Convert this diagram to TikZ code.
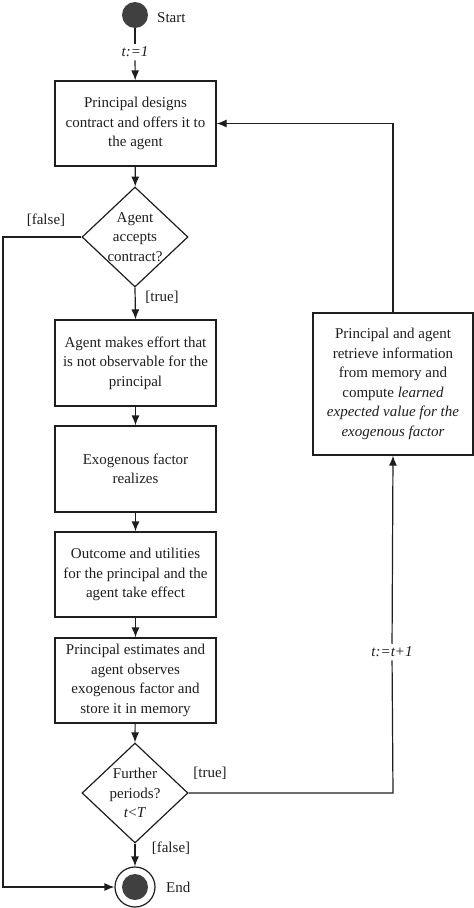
\documentclass[tikz,border=0pt]{standalone}
\usepackage{fontspec}
\setmainfont{Liberation Serif}
\usetikzlibrary{arrows.meta,shapes.geometric}
\definecolor{ink}{HTML}{1E1E1E}
\definecolor{dot}{HTML}{404040}
\begin{document}
\begin{tikzpicture}[x=1pt,y=-1pt,
  every node/.style={font=\fontsize{15}{19.5}\selectfont, text=ink},
  line/.style={draw=ink, line width=1.2pt},
  arr/.style={line, -{Latex[length=10pt,width=8pt]}},
  proc/.style={draw=ink, line width=1.2pt, rectangle, minimum width=161pt, align=center, inner sep=2pt},
  dec/.style={draw=ink, line width=1.2pt, diamond, minimum width=106pt, minimum height=100pt, inner sep=-12pt, align=center},
  lbl/.style={inner sep=1pt},
  lblw/.style={fill=white, inner sep=3pt}
]
\useasboundingbox (0,0) rectangle (474,908);

\node[circle, fill=dot, minimum size=26pt, inner sep=0pt] (start) at (135,15) {};
\node[lbl, anchor=west] (startl) at (156,18) {Start};
\node[lblw] (t1) at (135,52) {\textit{t:=1}};

\node[proc, minimum height=85pt] (box1) at (135.5,123.5) {Principal designs\\contract and offers it to\\the agent};
\node[dec] (d1) at (135,237) {Agent\\accepts\\contract?};
\node[proc, minimum height=86pt] (box2) at (135.5,363) {Agent makes effort that\\is not observable for the\\principal};
\node[proc, minimum height=86pt] (box3) at (135.5,469) {Exogenous factor\\realizes};
\node[proc, minimum height=85pt] (box4) at (135.5,574.5) {Outcome and utilities\\for the principal and the\\agent take effect};
\node[proc, minimum height=85pt] (box5) at (135.5,680.5) {Principal estimates and\\agent observes\\exogenous factor and\\store it in memory};
\node[dec] (d2) at (135,793) {Further\\periods?\\\textit{t}<\textit{T}};

\node[circle, draw=ink, line width=1.2pt, fill=white, minimum size=40pt, inner sep=0pt] (endo) at (135,887) {};
\node[circle, fill=dot, minimum size=26pt, inner sep=0pt] (endi) at (135,887) {};
\node[lbl, anchor=west] (endl) at (165,887) {End};

\node[proc, minimum width=160pt, minimum height=142pt] (box6) at (393,384) {Principal and agent\\retrieve information\\from memory and\\compute \textit{learned}\\\textit{expected value for the}\\\textit{exogenous factor}};

\coordinate (fl) at (3,237);
\coordinate (tr) at (393,793);
\node[lblw] (tinc) at (392,652) {\textit{t:=t+1}};

\node[lbl] (f1) at (46,220) {[false]};
\node[lbl] (t1l) at (162,297) {[true]};
\node[lbl] (t2l) at (210,773) {[true]};
\node[lbl] (f2l) at (171,848) {[false]};

\draw[line] (start) -- (t1);
\draw[arr] (t1) -- (box1);
\draw[arr] (box1) -- (d1);
\draw[arr] (d1.south) -- (box2.north);
\draw[arr] (box2) -- (box3);
\draw[arr] (box3) -- (box4);
\draw[arr] (box4) -- (box5);
\draw[arr] (box5) -- (d2.north);
\draw[arr] (d2.south) -- (endo.north);
\draw[arr] (d1.west) -- (fl) |- (endo.west);
\draw[line] (d2.east) -- (tr) -- (tinc);
\draw[arr] (tinc) -- (box6.south);
\draw[arr] (box6.north) |- (box1.east);
\end{tikzpicture}
\end{document}
